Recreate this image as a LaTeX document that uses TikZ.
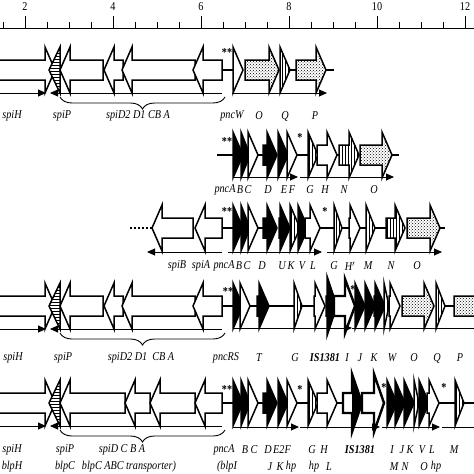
\documentclass[tikz,border=0pt]{standalone}
\usepackage{fontspec}
\setmainfont{Liberation Serif}[FakeStretch=0.85]
\usetikzlibrary{arrows.meta,patterns,decorations.pathreplacing}
\tikzset{
  gene/.style={draw=black, line width=1.5pt, line join=miter, fill=white},
  gwhite/.style={fill=white},
  gblack/.style={fill=black},
  gdots/.style={preaction={fill=white}, pattern=crosshatch dots},
  gvlines/.style={preaction={fill=white}, pattern=vertical lines},
  ghlines/.style={preaction={fill=white}, pattern=horizontal lines},
  gis/.style={line width=2.4pt},
  igline/.style={line width=2pt},
  baseln/.style={line width=0.9pt},
  dirarrow/.style={baseln, -{Triangle[length=8pt,width=7pt]}},
  opbrace/.style={decorate, decoration={brace, mirror, amplitude=12pt}, line width=0.9pt},
  lbl/.style={font=\fontsize{12}{12}\selectfont\itshape, inner sep=0pt},
  num/.style={font=\fontsize{12}{12}\selectfont, inner sep=0pt},
  stars/.style={font=\fontsize{12}{12}\selectfont\bfseries, inner sep=0pt},
}
% right-pointing gene: [head half height]{start}{tip}{y}{style}
\newcommand{\gR}[5][23]{%
  \pgfmathsetmacro{\headx}{max(#2,#3-10)}%
  \draw[gene,#5] (#2,#4-10) -- (\headx,#4-10) -- (\headx,#4-#1) -- (#3,#4)
    -- (\headx,#4+#1) -- (\headx,#4+10) -- (#2,#4+10) -- cycle;}
% left-pointing gene: [head half height]{tip}{end}{y}{style}
\newcommand{\gL}[5][23]{%
  \pgfmathsetmacro{\headx}{min(#3,#2+10)}%
  \draw[gene,#5] (#3,#4-10) -- (\headx,#4-10) -- (\headx,#4-#1) -- (#2,#4)
    -- (\headx,#4+#1) -- (\headx,#4+10) -- (#3,#4+10) -- cycle;}
% spiH / spiP block with direction arrows and brace
\newcommand{\spiHP}[1]{%
  \gR{-6}{55}{#1}{gwhite}
  \draw[gene,ghlines] (60,#1-23) -- (49,#1) -- (60,#1+23) -- cycle;
  \draw[dirarrow] (0,#1+23) -- (46,#1+23);
  \draw[dirarrow] (222,#1+23) -- (50,#1+23);
  \draw[opbrace] (60,#1+27) -- (225,#1+27);}

\begin{document}
\begin{tikzpicture}[x=1pt, y=-1pt]
\useasboundingbox (0,0) rectangle (474,474);
\clip (0,0) rectangle (474,474);

% scale (kb)
\draw[baseln] (0,28) -- (474,28);
\foreach \i in {0,...,21}{
  \pgfmathtruncatemacro{\m}{mod(\i-1,4)}
  \ifnum\m=0 \draw[baseln] (3+22*\i,16) -- (3+22*\i,28);
  \else \draw[baseln] (3+22*\i,22) -- (3+22*\i,28); \fi}
\foreach \k in {2,4,6,8,10,12}
  \node[num] (kb\k) at ({25+44*(\k-2)},7) {\k};

% row 1
\draw[igline] (222,70) -- (233,70) (290,70) -- (296,70) (326,70) -- (334,70);
\spiHP{70}
\foreach \a/\b in {60/103,104/123,122/195,193/222}{\gL{\a}{\b}{70}{gwhite}}
\foreach \a/\b/\s in {233/243/gwhite,245/279/gdots,280/290/gvlines,296/326/gdots}{\gR{\a}{\b}{70}{\s}}
\draw[dirarrow] (232,93) -- (327,93);
\node[stars] (st1) at (227,53) {**};
\foreach \x/\t [count=\n] in {12/spiH,62/spiP,138/spiD2 D1 CB A,232/pncW,259/O,285/Q,315/P}
  \node[lbl] (r1l\n) at (\x,116) {\t};

% row 2
\draw[igline] (217,155) -- (233,155) (258,155) -- (264,155) (297,155) -- (308,155)
  (337,155) -- (339,155) (392,155) -- (399,155);
\foreach \a/\b/\s in {233/243/gblack,241/250/gblack,248/258/gwhite,263/277/gblack,
  278/288/gblack,287/297/gwhite,308/318/gvlines,317/337/gwhite,339/359/gvlines,360/392/gdots}{\gR{\a}{\b}{155}{\s}}
\draw[dirarrow] (233,177) -- (298,177);
\draw[dirarrow] (300,177) -- (394,177);
\node[stars] (st2a) at (227,142) {**};
\node[stars] (st2b) at (300,138) {*};
\foreach \x/\t [count=\n] in {225/pncA,240/B,248/C,268/D,284/E,292/F,310/G,325/H,344/N,374/O}
  \node[lbl] (r2l\n) at (\x,190) {\t};

% row 3
\draw[igline, dash pattern=on 2pt off 2pt] (130,228) -- (152,228);
\draw[igline] (222,228) -- (233,228) (258,228) -- (263,228) (320,228) -- (334,228)
  (342,228) -- (349,228) (360,228) -- (366,228) (375,228) -- (386,228) (440,228) -- (445,228);
\foreach \a/\b in {152/193,195/222}{\gL{\a}{\b}{228}{gwhite}}
\foreach \a/\b/\s in {233/243/gblack,241/250/gblack,248/258/gwhite,263/277/gblack,
  279/290/gblack,290/300/gvlines,298/308/gblack,305/320/gwhite,334/342/gvlines,
  349/360/gwhite,366/375/gvlines,386/405/gvlines,407/440/gdots}{\gR{\a}{\b}{228}{\s}}
\draw[dirarrow] (222,252) -- (147,252);
\draw[dirarrow] (228,252) -- (322,252);
\draw[dirarrow] (327,252) -- (442,252);
\node[stars] (st3a) at (227,212) {**};
\node[stars] (st3b) at (325,212) {*};
\foreach \x/\t [count=\n] in {177/spiB,201/spiA,224/pncA,239/B,247/C,262/D,282/U,291/K,
  302/V,313/L,334/G,350/H$'$,368/M,391/N,417/O}
  \node[lbl] (r3l\n) at (\x,266) {\t};

% row 4
\draw[igline] (222,306) -- (233,306) (250,306) -- (257,306) (269,306) -- (294,306)
  (302,306) -- (314,306) (445,306) -- (454,306);
\spiHP{306}
\foreach \a/\b in {60/103,104/123,122/195,193/222}{\gL{\a}{\b}{306}{gwhite}}
\foreach \a/\b/\s in {233/243/gblack,240/250/gwhite,257/269/gblack,294/302/gvlines,
  314/325/gwhite}{\gR{\a}{\b}{306}{\s}}
\gR[30]{326}{337}{306}{gblack}
\gR[27]{334}{355}{306}{gwhite,gis}
\foreach \a/\b/\s in {355/365/gblack,365/375/gblack,374/385/gblack,384/389/gvlines,
  389/400/gwhite,402/434/gdots,436/445/gvlines,454/492/gdots}{\gR{\a}{\b}{306}{\s}}
\draw[dirarrow] (233,328) -- (352,328);
\draw[baseln] (352,328) -- (474,328);
\node[stars] (st4a) at (228,292) {**};
\node[stars] (st4b) at (353,290) {*};
\foreach \x/\t [count=\n] in {13/spiH,63/spiP,141/spiD2 D1\ \ CB A,226/pncRS,259/T,295/G,
  325/\textbf{IS1381},347/I,360/J,374/K,392/W,414/O,437/Q,460/P}
  \node[lbl] (r4l\n) at (\x,358) {\t};

% row 5
\draw[igline] (222,403) -- (233,403) (258,403) -- (263,403) (297,403) -- (308,403)
  (337,403) -- (343,403) (439,403) -- (455,403) (464,403) -- (474,403);
\spiHP{403}
\foreach \a/\b in {60/125,125/150,150/195,195/222}{\gL{\a}{\b}{403}{gwhite}}
\foreach \a/\b/\s in {233/243/gblack,241/250/gblack,248/258/gwhite,263/277/gblack,
  278/288/gblack,287/297/gwhite,308/318/gvlines,317/337/gwhite}{\gR{\a}{\b}{403}{\s}}
\gR[29]{343}{362}{403}{gwhite,gis}
\fill (352,374) -- (362,403) -- (352,432) -- cycle;
\gR[29]{362}{384}{403}{gwhite,gis}
\foreach \a/\b/\s in {387/397/gblack,395/405/gblack,404/414/gblack,414/419/gvlines,
  419/429/gblack,427/439/gwhite,455/464/gvlines}{\gR{\a}{\b}{403}{\s}}
\draw[dirarrow] (233,427) -- (299,427);
\draw[dirarrow] (300,427) -- (380,427);
\draw[dirarrow] (382,427) -- (440,427);
\draw[baseln] (442,427) -- (474,427);
\node[stars] (st5a) at (227,390) {**};
\node[stars] (st5b) at (300,390) {*};
\node[stars] (st5c) at (384,388) {*};
\node[stars] (st5d) at (444,388) {*};
\foreach \x/\t [count=\n] in {12/spiH,65/spiP,122/spiD C B A,224/pncA,245/B,254/C,268/D,
  282/E2F,312/G,324/H,360/\textbf{IS1381},392/I,402/J,410/K,422/V,432/L,454/M}
  \node[lbl] (r5l\n) at (\x,450) {\t};
\foreach \x/\t [count=\n] in {12/blpH,65/blpC,129/blpC ABC transporter),227/(blpI,270/J,
  280/K,291/hp,314/hp,329/L,394/M,405/N,424/O,436/hp}
  \node[lbl] (r5m\n) at (\x,467) {\t};
\end{tikzpicture}
\end{document}
